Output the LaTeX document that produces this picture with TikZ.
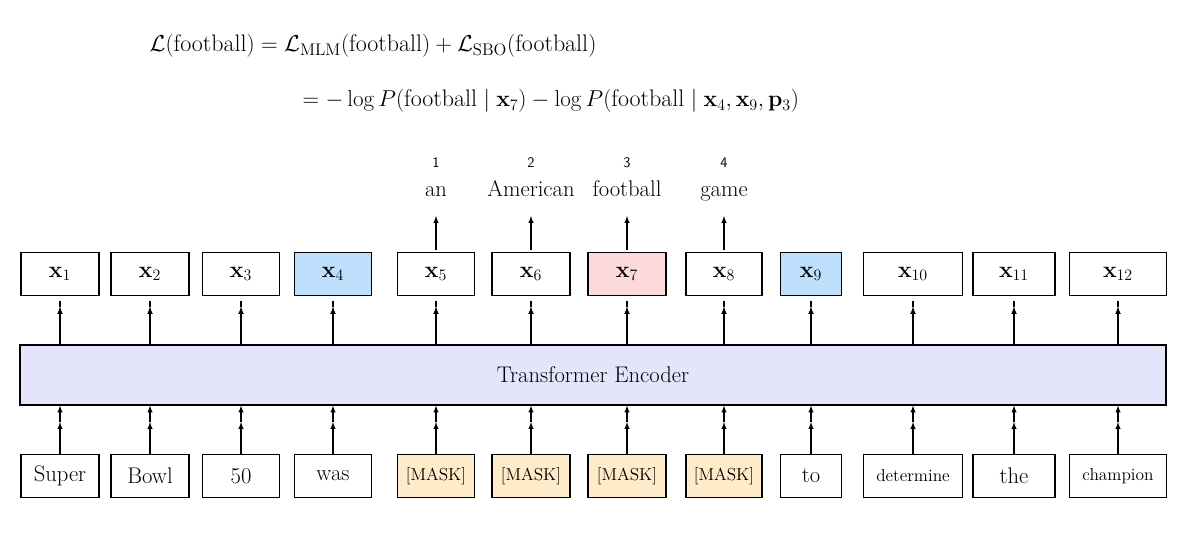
\documentclass[tikz,border=0pt]{standalone}
\usepackage{amsmath,amssymb}
\usetikzlibrary{positioning}
\definecolor{spanblue}{HTML}{BEDFFB}
\definecolor{tgtpink}{HTML}{FDD9DA}
\definecolor{maskorange}{HTML}{FDEBC9}
\definecolor{encblue}{HTML}{E4E4FB}
\tikzset{
  tok/.style={draw, thick, minimum height=32pt, inner sep=1pt, font=\fontsize{17}{20}\selectfont},
  up/.style={-latex, thick},
}
\begin{document}
\begin{tikzpicture}[x=0.0264cm,y=-0.0264cm]
\useasboundingbox (0,0) rectangle (1204,533);

% loss
\node[anchor=base west, font=\fontsize{18}{22}\selectfont] at (145,52)
  {$\mathcal{L}(\text{football}) = \mathcal{L}_{\text{MLM}}(\text{football}) + \mathcal{L}_{\text{SBO}}(\text{football})$};
\node[anchor=base west, font=\fontsize{18}{22}\selectfont] at (298,107)
  {$= -\log P(\text{football} \mid \mathbf{x}_7) - \log P(\text{football} \mid \mathbf{x}_4, \mathbf{x}_9, \mathbf{p}_3)$};

% encoder
\node[draw, thick, fill=encblue, minimum width=1146*0.0264cm, minimum height=60*0.0264cm,
  font=\fontsize{17}{20}\selectfont] (enc) at (593,375) {Transformer Encoder};

% tokens
\foreach \i/\cx/\w/\col/\inp/\fs in {
  1/60/78/white/Super/17, 2/150/78/white/Bowl/17, 3/241/77/white/50/17,
  4/333/77/spanblue/was/17, 5/436/77/white/[MASK]/13, 6/531/78/white/[MASK]/13,
  7/627/78/tgtpink/[MASK]/13, 8/724/76/white/[MASK]/13, 9/811/61/spanblue/to/17,
  10/913/99/white/determine/13, 11/1014/82/white/the/17, 12/1118/97/white/champion/13}{
  \ifnum\i>4 \ifnum\i<9 \def\incol{maskorange}\else\def\incol{white}\fi\else\def\incol{white}\fi
  \node[tok, fill=\incol, minimum width=\w*0.0264cm, font=\fontsize{\fs}{\fs}\selectfont] (in\i) at (\cx,476) {\inp};
  \node[tok, fill=\col, minimum width=\w*0.0264cm] (out\i) at (\cx,274) {$\mathbf{x}_{\i}$};
  \coordinate (b\i) at (\cx,422);
  \coordinate (t\i) at (\cx,307);
  \draw[up] (b\i) -- (enc.south -| b\i);
  \draw[up] (t\i) -- (out\i.south |- t\i);
  \draw[up] (in\i) -- (in\i |- b\i);
  \draw[up] (enc.north -| t\i) -- (t\i);
}

% predicted span
\foreach \i/\word/\k in {5/an/1, 6/American/2, 7/football/3, 8/game/4}{
  \node[font=\fontsize{17}{20}\selectfont, anchor=base] (w\i) at (out\i |- 0,197) {\word};
  \node[font=\sffamily\fontsize{11}{12}\selectfont, anchor=base] (n\i) at (out\i |- 0,168) {\k};
  \coordinate (z\i) at (out\i |- 0,216);
  \draw[up] (out\i.north |- 0,250) -- (z\i);
}
\end{tikzpicture}
\end{document}
